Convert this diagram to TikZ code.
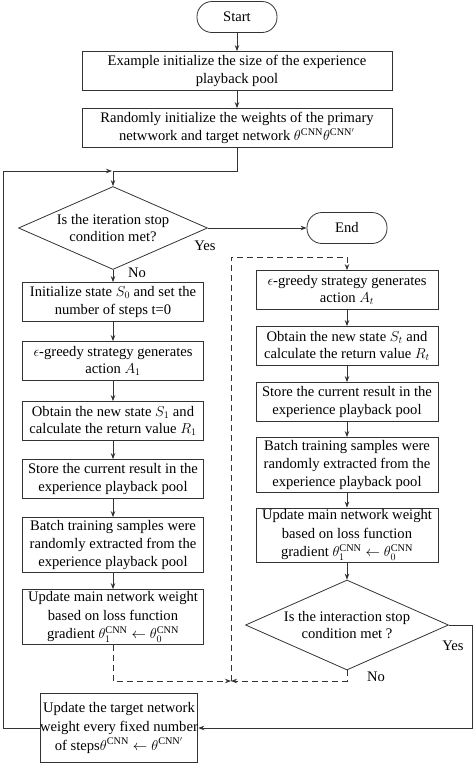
\documentclass[tikz,border=0pt]{standalone}
\usepackage{amsmath,amssymb}
\usepackage{fontspec}
\setmainfont{Liberation Serif}
\usepackage{tikz}
\usetikzlibrary{positioning,arrows.meta,shapes.geometric}
\usepackage{xcolor}

\begin{document}
\begin{tikzpicture}[x=1pt,y=-1pt,>={Stealth[length=6pt,width=4.5pt]},
  every node/.style={font=\fontsize{14.6}{17.6}\selectfont,align=center,inner sep=1pt},
  box/.style={draw=black!80,line width=0.8pt,minimum height=39pt},
  lbox/.style={box,minimum width=181pt},
  rbox/.style={box,minimum width=182pt},
  tall/.style={font=\fontsize{14.6}{18.6}\selectfont,inner sep=0pt},
  term/.style={draw=black!80,line width=0.8pt,rounded corners=15pt,minimum width=80pt,minimum height=31pt},
  decide/.style={draw=black!80,line width=0.8pt,diamond,aspect=2.3,inner sep=0pt},
  line/.style={draw=black!80,line width=0.8pt},
  dline/.style={line,dash pattern=on 6pt off 4pt}]
\useasboundingbox (0,0) rectangle (474,764);
\node[term] (start) at (237,17) {Start};
\node[box,minimum width=310pt] (pool) at (237,71) {Example initialize the size of the experience\\playback pool};
\node[box,minimum width=310pt,tall] (weights) at (237,128) {Randomly initialize the weights of the primary\\netwwork and target network $\theta^{\mathrm{CNN}}\theta^{\mathrm{CNN'}}$};
\node[decide,minimum width=189pt,minimum height=83pt] (iter) at (113,228) {Is the iteration stop\\condition met?};
\node[term] (end) at (347,228) {End};
\node[lbox] (init) at (113,302) {Initialize state $S_0$ and set the\\number of steps t=0};
\node[lbox] (actA) at (113,361) {$\epsilon$-greedy strategy generates\\action $A_1$};
\node[lbox] (obtA) at (113,421) {Obtain the new state $S_1$ and\\calculate the return value $R_1$};
\node[lbox] (storeA) at (113,479) {Store the current result in the\\experience playback pool};
\node[lbox,minimum height=55pt] (batchA) at (113,545) {Batch training samples were\\randomly extracted from the\\experience playback pool};
\node[lbox,minimum height=55pt,tall] (updA) at (113,617) {Update main network weight\\based on loss function\\gradient $\theta_1^{\mathrm{CNN}}\leftarrow\theta_0^{\mathrm{CNN}}$};
\node[rbox] (actB) at (347,290) {$\epsilon$-greedy strategy generates\\action $A_t$};
\node[rbox] (obtB) at (347,346) {Obtain the new state $S_t$ and\\calculate the return value $R_t$};
\node[rbox] (storeB) at (347,402) {Store the current result in the\\experience playback pool};
\node[rbox,minimum height=55pt] (batchB) at (347,465) {Batch training samples were\\randomly extracted from the\\experience playback pool};
\node[rbox,minimum height=54pt,tall] (updB) at (347,535) {Update main network weight\\based on loss function\\gradient $\theta_1^{\mathrm{CNN}}\leftarrow\theta_0^{\mathrm{CNN}}$};
\node[decide,minimum width=203pt,minimum height=90pt] (inter) at (347,625) {Is the interaction stop\\condition met ?};
\node[box,minimum width=154pt,minimum height=69pt,tall] (target) at (119,728) {Update the target network\\weight every fixed number\\of steps$\theta^{\mathrm{CNN}}\leftarrow\theta^{\mathrm{CNN'}}$};
\node (yes1) at (205,246) {Yes};
\node (no1) at (137,273) {No};
\node (yes2) at (453,646) {Yes};
\node (no2) at (376,677) {No};
\coordinate (merge) at (113,171);
\coordinate (leftx) at (3,171);
\coordinate (rightx) at (472,625);
\coordinate (djoin) at (231,681);
\coordinate (dtop) at (231,257);
% main flow
\draw[line,->] (start) -- (pool);
\draw[line,->] (pool) -- (weights);
\draw[line] (weights.south) |- (merge);
\draw[line,->] (merge) -- (iter.north);
\draw[line,->] (iter.east) -- (end.west);
\draw[line,->] (iter.south) -- (init.north);
\draw[line,->] (init) -- (actA);
\draw[line,->] (actA) -- (obtA);
\draw[line,->] (obtA) -- (storeA);
\draw[line,->] (storeA) -- (batchA);
\draw[line,->] (batchA) -- (updA);
\draw[line,->] (actB) -- (obtB);
\draw[line,->] (obtB) -- (storeB);
\draw[line,->] (storeB) -- (batchB);
\draw[line,->] (batchB) -- (updB);
\draw[line,->] (updB) -- (inter.north);
% loops
\draw[line,->] (inter.east) -- (rightx) |- (target.east);
\draw[line,->] (target.west) -- (target.west -| leftx) -- (leftx) -- ([xshift=-1pt]merge);
\draw[dline,->] (updA.south) |- (djoin);
\draw[dline,->] (inter.south) |- (djoin);
\draw[dline,->] (djoin) -- (dtop) -| (actB.north);
\end{tikzpicture}
\end{document}
